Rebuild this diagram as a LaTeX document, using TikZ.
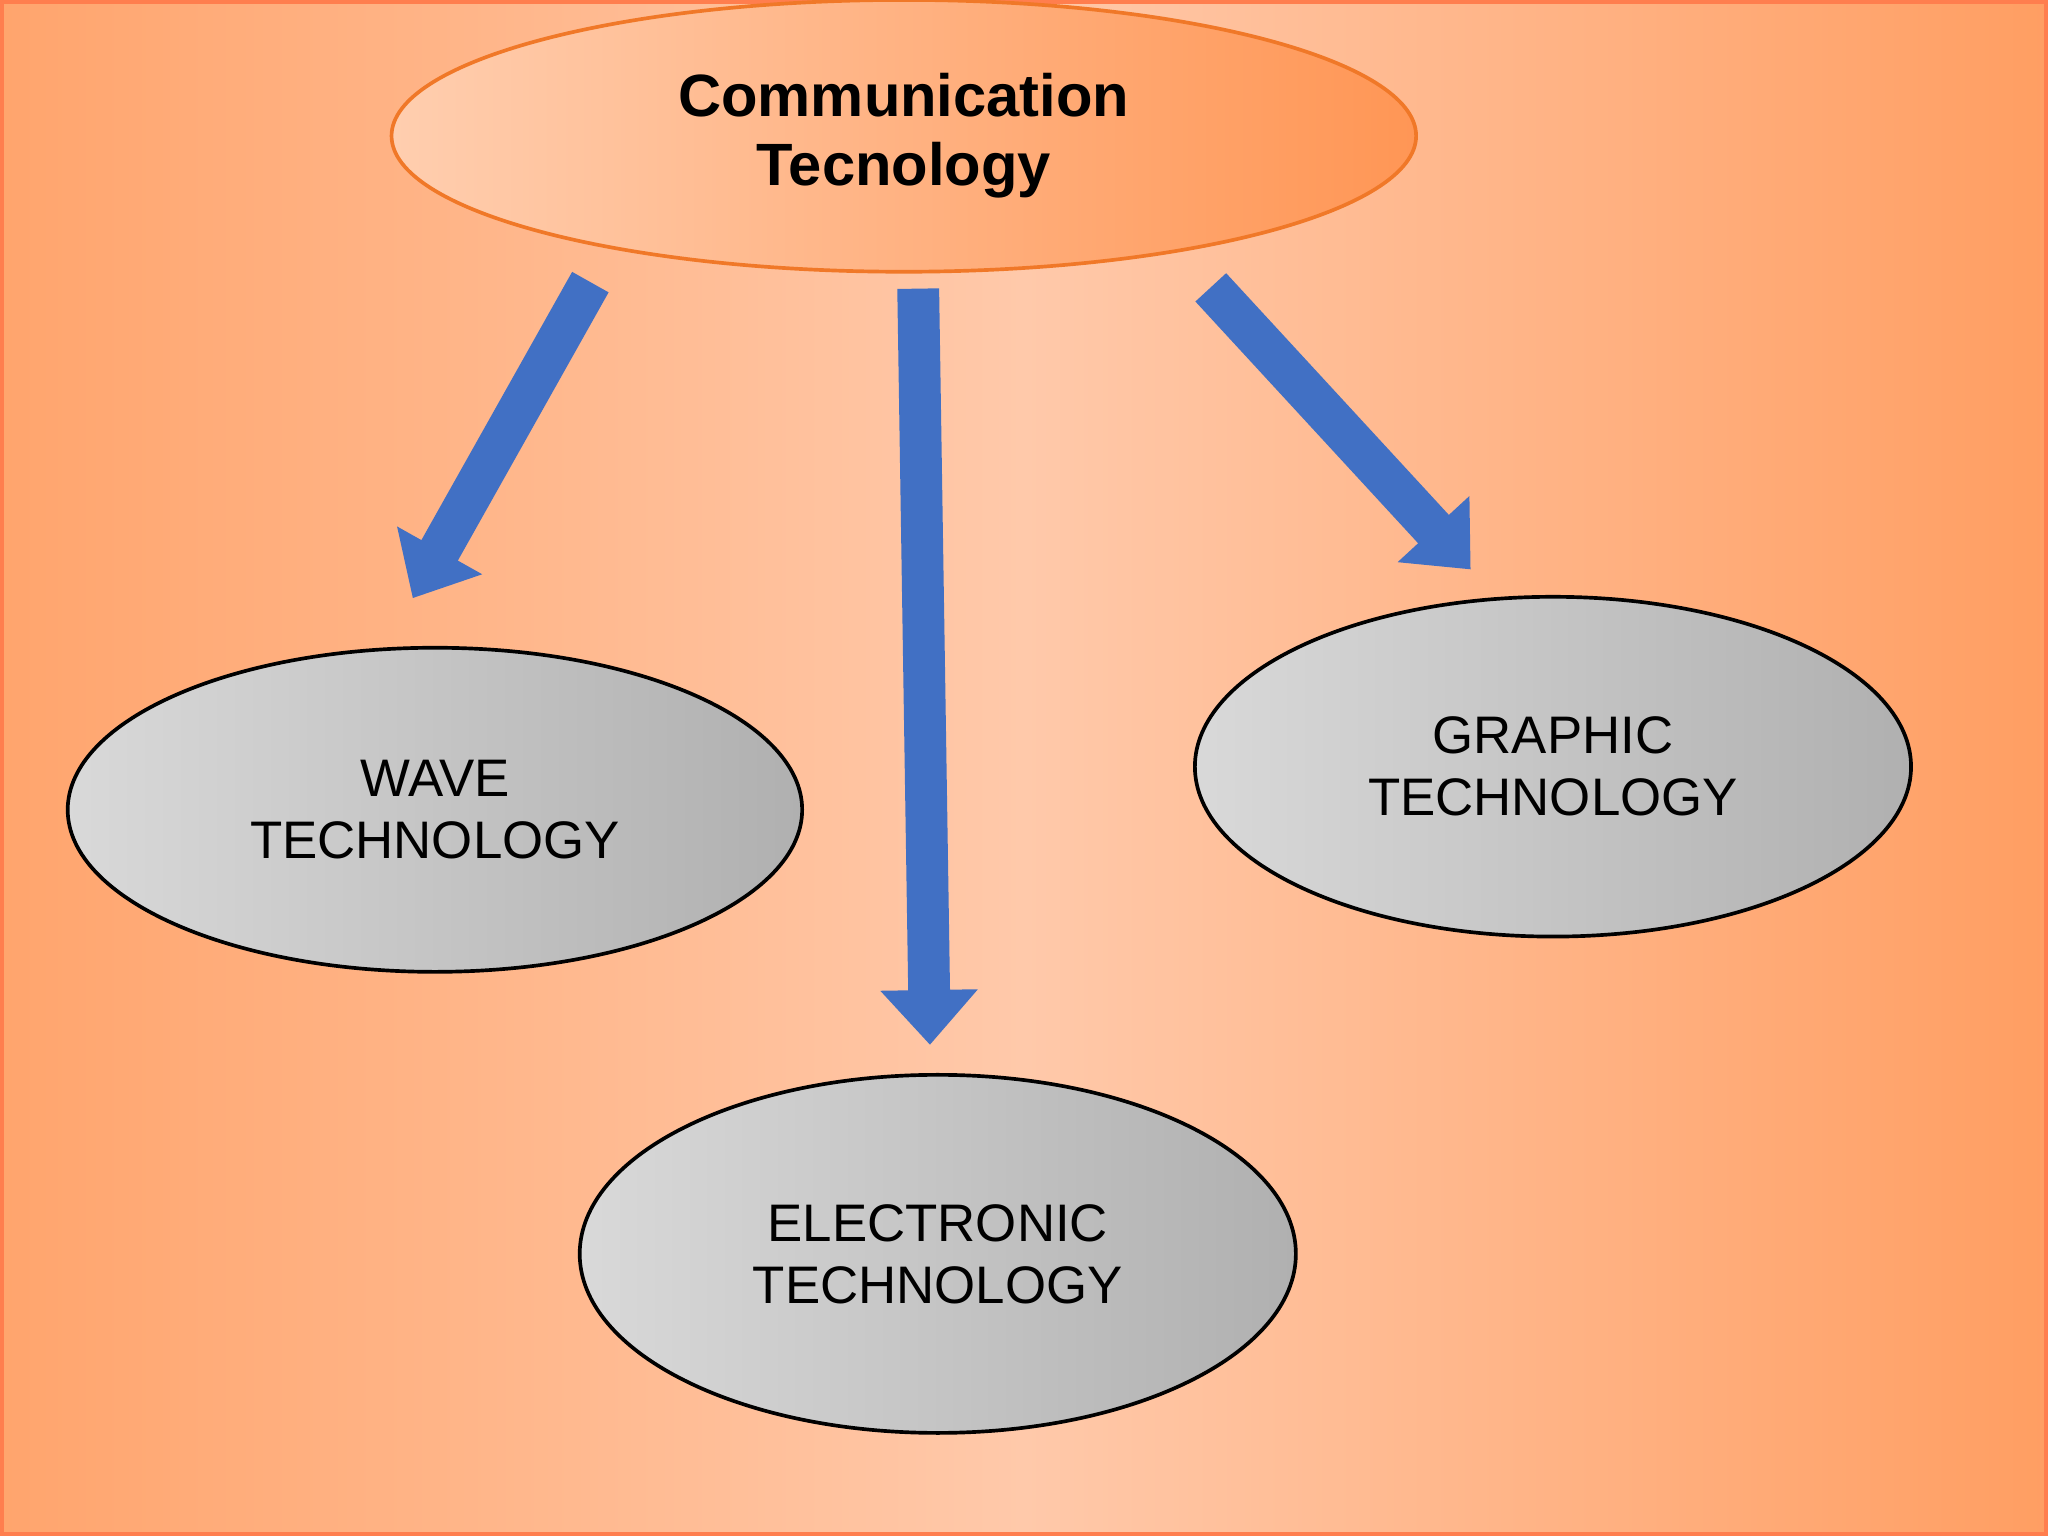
\documentclass[tikz,border=0pt]{standalone}
\usepackage{fontspec}
\setmainfont{Liberation Sans}
\usetikzlibrary{arrows.meta,shapes.geometric}
\definecolor{bgmid}{HTML}{FFC9AA}
\definecolor{bgedge}{HTML}{FF9E62}
\definecolor{arrowblue}{HTML}{4170C4}
\tikzset{
  grayell/.style={ellipse, draw=black, thick, left color=gray!30, right color=gray!62, font=\fontsize{11.5}{13.5}\selectfont, align=center, inner sep=0pt},
  bigarrow/.style={draw=arrowblue, line width=0.32cm, -{Triangle[width=0.72cm,length=0.42cm]}}
}
\begin{document}
\begin{tikzpicture}[x=0.01cm,y=-0.01cm]
\useasboundingbox (0,0) rectangle (1568,1176);
\shade[left color=bgedge!85!bgmid, right color=bgedge, middle color=bgmid] (0,0) rectangle (1568,1176);
\draw[bgedge!80!red, line width=1pt] (1,1) rectangle (1567,1175);
\node[ellipse, minimum width=7.84cm, minimum height=2.08cm, draw={rgb,255:red,240;green,120;blue,40}, thick,
  left color={rgb,255:red,255;green,206;blue,175}, right color={rgb,255:red,255;green,150;blue,85},
  align=center, font=\bfseries\fontsize{13}{15}\selectfont] (top) at (692,104) {Communication\\Tecnology};
\node[grayell, minimum width=5.62cm, minimum height=2.48cm] (wave) at (333,620) {WAVE\\TECHNOLOGY};
\node[grayell, minimum width=5.48cm, minimum height=2.60cm] (graphic) at (1189,587) {GRAPHIC\\TECHNOLOGY};
\node[grayell, minimum width=5.48cm, minimum height=2.74cm] (elec) at (718,960) {ELECTRONIC\\TECHNOLOGY};
\coordinate (a1s) at (452,216);
\coordinate (a1e) at (316,458);
\coordinate (a2s) at (703,221);
\coordinate (a2e) at (712,800);
\coordinate (a3s) at (927,220);
\coordinate (a3e) at (1126,436);
\draw[bigarrow] (a1s) -- (a1e);
\draw[bigarrow] (a2s) -- (a2e);
\draw[bigarrow] (a3s) -- (a3e);
\end{tikzpicture}
\end{document}
